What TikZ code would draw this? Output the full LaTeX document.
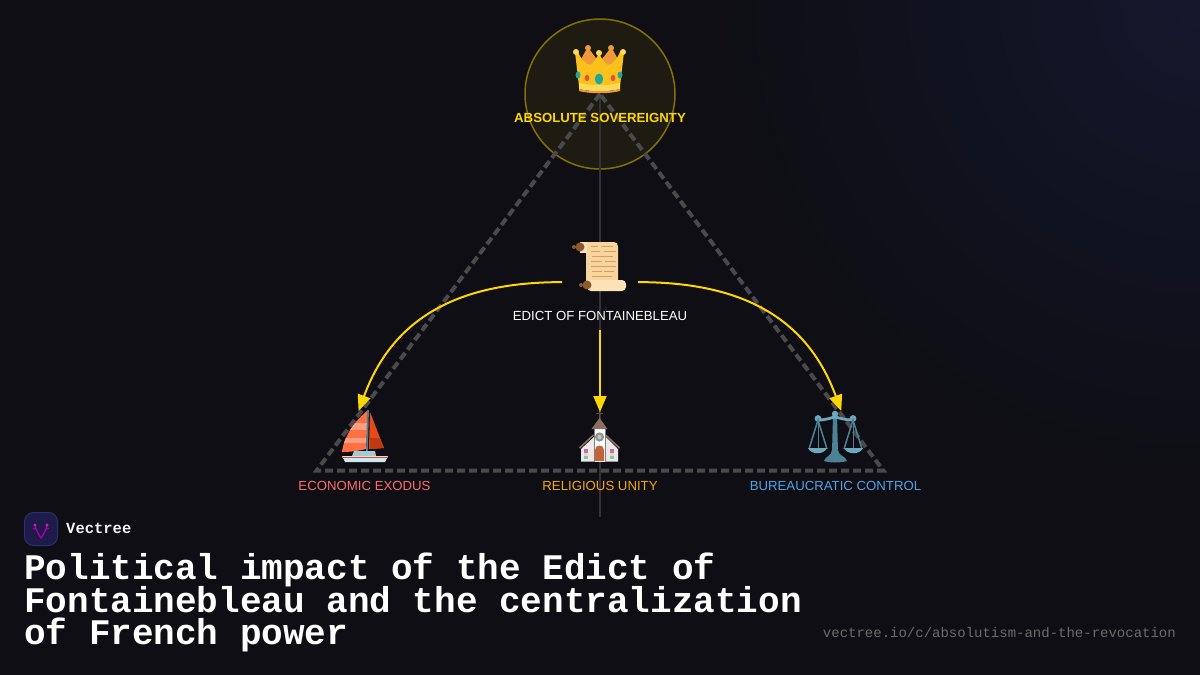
\documentclass[tikz,border=0pt]{standalone}
\usepackage{fontspec}
\setmainfont{Liberation Sans}
\newfontfamily\titlefont{Liberation Mono}
\usetikzlibrary{arrows.meta, positioning}
\newcommand\headlinesize{\fontsize{36}{32.5}\selectfont\setlength{\lineskiplimit}{-30pt}}
\definecolor{bgdark}{HTML}{0E0E14}
\definecolor{bgblue}{HTML}{15172D}
\definecolor{gold}{HTML}{FFD700}
\definecolor{gridgray}{HTML}{4A4A4C}
\definecolor{stemgray}{HTML}{333336}
\definecolor{steel}{HTML}{6FA8BC}
\definecolor{steeldark}{HTML}{4D8296}
\definecolor{crowngold}{HTML}{FCC21B}
\definecolor{crownback}{HTML}{EF9A3A}
\definecolor{crownband}{HTML}{FFD95A}
\definecolor{jewelteal}{HTML}{1BA79A}
\definecolor{jewelred}{HTML}{E8503F}
\definecolor{paper}{HTML}{F9D49C}
\definecolor{paperroll}{HTML}{FFE2B8}
\definecolor{paperink}{HTML}{CFA06A}
\definecolor{knob}{HTML}{8D5A2F}
\definecolor{sailred}{HTML}{FF7043}
\definecolor{sailpale}{HTML}{FF9E80}
\definecolor{saildark}{HTML}{E64A19}
\definecolor{saildeep}{HTML}{BF3A12}
\definecolor{hull}{HTML}{CDE8EE}
\definecolor{roof}{HTML}{8D6E63}
\definecolor{wall}{HTML}{ECE8E6}
\definecolor{door}{HTML}{C1663A}
\tikzset{
  hub/.style = {circle, draw=gold!52!black, line width=1.5pt, fill=gold, fill opacity=0.065,
    draw opacity=1, minimum size=150pt, inner sep=0pt},
  iconbox/.style = {minimum width=50pt, minimum height=50pt, inner sep=0pt, outer sep=0pt},
  caption/.style = {font=\fontsize{13.2}{15}\selectfont, inner sep=0pt},
  sideline/.style = {draw=gridgray, line width=4pt, dash pattern=on 8pt off 4pt},
  flow/.style = {draw=gold, line width=2pt, -{Triangle[length=16pt, width=13pt]}},
}

\begin{document}
\begin{tikzpicture}[x=1pt, y=-1pt]
      \useasboundingbox (0,0) rectangle (1200,675);

      % --- Background ---
      \fill[bgdark] (0,0) rectangle (1200,675);
      \begin{scope}
        \clip (0,0) rectangle (1200,675);
        \shade[inner color=bgblue, outer color=bgdark] (1200,0) circle[radius=480];
      \end{scope}

      % --- Nodes ---
      \node[hub] (sovereign) at (600,94) {};
      \node[iconbox, minimum width=76pt, minimum height=52pt] (scroll) at (600,266) {};
      \node[iconbox] (boat) at (363,436) {};
      \node[iconbox] (church) at (600,437) {};
      \node[iconbox] (balance) at (835,436) {};
      \coordinate (baseL) at (316.5,470.7);
      \coordinate (baseR) at (883.5,470.7);
      \coordinate (stem) at (600,517);

      % --- Triangle and axis ---
      \draw[stemgray, line width=1.5pt] (sovereign.center) -- (stem);
      \draw[sideline] (sovereign.center) -- (baseL) -- (baseR) -- cycle;

      % --- Crown ---
      \fill[crownback] (579,66) .. controls (581,58) and (585,52) .. (588,47)
        .. controls (591,52) and (596,58) .. (599,62) .. controls (603,58) and (608,52) .. (611,47)
        .. controls (614,52) and (618,58) .. (620,66) -- (618,80) -- (581,80) -- cycle;
      \fill[crowngold] (575,52) -- (578,52) .. controls (581,59) and (585,64) .. (590,65)
        .. controls (594,62) and (597,58) .. (599,53) .. controls (601,58) and (604,62) .. (608,65)
        .. controls (613,64) and (617,59) .. (620,52) -- (624,52) -- (620,86) -- (579,86) -- cycle;
      \fill[crownband] (579,83) .. controls (590,86) and (609,86) .. (620,83) -- (620,89)
        .. controls (609,92) and (590,92) .. (579,89) -- cycle;
      \fill[crownback] (579,89) .. controls (590,92) and (609,92) .. (620,89) -- (620,91)
        .. controls (609,94) and (590,94) .. (579,91) -- cycle;
      \foreach \px/\py in {576/52, 599/53, 623/52}
        \fill[crownband] (\px,\py) circle[radius=3];
      \foreach \px/\py in {588/48, 611/48}
        \fill[crownback] (\px,\py) circle[radius=3];
      \fill[jewelteal] (599,79) ellipse[x radius=4.2, y radius=5.5];
      \fill[jewelteal] (578,75) ellipse[x radius=2.5, y radius=3.5];
      \fill[jewelteal] (620,75) ellipse[x radius=2.5, y radius=3.5];
      \fill[jewelred] (587,78) ellipse[x radius=2.3, y radius=3.2];
      \fill[jewelred] (613,78) ellipse[x radius=2.3, y radius=3.2];

      % --- Scroll ---
      \fill[paper] (586,242) -- (614,242) .. controls (617,242) and (618,244) .. (618,247)
        -- (618,282) -- (586,282) -- cycle;
      \fill[paperroll] (580,242) -- (587,242) -- (587,253) -- (580,253) -- cycle;
      \foreach \ly/\lx/\lz in {246/591/598, 246/601/613, 251/591/600, 251/604/616, 256/592/613,
        261/591/602, 261/605/616, 266/591/616, 271/592/602, 271/604/614, 276/592/612}
        \draw[paperink, line width=0.9pt] (\lx,\ly) -- (\lz,\ly);
      \fill[paperroll, rounded corners=4pt] (587,280) rectangle (626,291);
      \fill[knob] (580,247) circle[radius=4.5];
      \fill[knob] (574,247) circle[radius=2];
      \fill[knob] (587,285) circle[radius=4.5];
      \fill[knob] (581,285) circle[radius=2];

      % --- Sailboat ---
      \begin{scope}
        \clip (368,410) .. controls (356,420) and (344,435) .. (342,452)
          .. controls (350,452) and (358,451) .. (366,449) -- cycle;
        \fill[sailred] (340,405) rectangle (370,455);
        \fill[sailpale] (340,423) rectangle (370,430);
        \fill[sailpale] (340,438) rectangle (370,443);
      \end{scope}
      \fill[saildark] (370,412) .. controls (375,425) and (380,438) .. (384,448) -- (369,449) -- cycle;
      \fill[saildeep] (370,438) -- (379,438) -- (384,448) -- (370,449) -- cycle;
      \draw[steeldark, line width=1.8pt] (368,410) -- (367,453);
      \fill[hull!70!steeldark] (352,456) -- (354,451) -- (375,451) -- (376,456) -- cycle;
      \fill[hull] (342,456) -- (388,456) -- (385,462) -- (345,462) -- cycle;
      \draw[saildark, line width=0.9pt] (342,457) -- (388,457);

      % --- Church ---
      \draw[roof!70!black, line width=1.3pt] (599.5,410) -- (599.5,419) (596,413.5) -- (603,413.5);
      \fill[wall] (581,449) -- (594,437) -- (606,437) -- (618,449) -- (618,461.5) -- (581,461.5) -- cycle;
      \draw[roof, line width=1.6pt] (579.5,448) -- (593.5,435) (605.5,435) -- (619.5,448);
      \fill[white] (594,428) rectangle (605,461.5);
      \draw[gray, line width=0.7pt] (594,429) -- (594,461.5) (605,429) -- (605,461.5);
      \fill[roof] (591.5,429) -- (599.5,418) -- (607.5,429) -- cycle;
      \fill[steel!70!gray] (599.5,437) circle[radius=4.6];
      \fill[sailpale!60!paper] (599.5,437) circle[radius=2.2];
      \fill[door] (595,461) -- (595,450) .. controls (595,444) and (604,444) .. (604,450) -- (604,461) -- cycle;
      \foreach \wx in {585.7, 612.3} {
        \fill[violet!55!white] (\wx-2,449) rectangle (\wx+2,453);
        \fill[paper] (\wx-2,453) rectangle (\wx+2,456);
        \fill[jewelteal!60!white] (\wx-2,456) rectangle (\wx+2,459);
      }

      % --- Scales ---
      \fill[steeldark] (833,415) -- (837,415) -- (838,452) -- (832,452) -- cycle;
      \draw[steel, line width=2.8pt] (818,420) .. controls (826,420) and (830,418) .. (835,417)
        .. controls (840,418) and (845,420) .. (853,420);
      \fill[steel] (835,414) circle[radius=3.2];
      \fill[steel] (818,418.5) circle[radius=3.4];
      \fill[steel] (853,418.5) circle[radius=3.4];
      \fill[steeldark] (824,461) .. controls (825,456) and (832,456) .. (832,450) -- (838,450)
        .. controls (838,456) and (846,456) .. (847,461) .. controls (840,463) and (830,463) .. (824,461) -- cycle;
      \draw[steeldark, line width=1.5pt] (809,449) -- (818,420) -- (827,449) (844,449) -- (853,420) -- (862,449);
      \draw[steeldark, line width=0.6pt] (818,420) -- (818,449) (853,420) -- (853,449);
      \fill[steel] (808,448) .. controls (811,455) and (824,455) .. (827,448) -- cycle;
      \fill[steel] (844,448) .. controls (847,455) and (860,455) .. (863,448) -- cycle;

      % --- Labels ---
      \node[caption, font=\fontsize{13.2}{15}\selectfont\bfseries, text=gold] (sovereignLabel) at (600,117.7) {ABSOLUTE SOVEREIGNTY};
      \node[caption, text=white, minimum height=29pt] (edict) at (600,315.7) {EDICT OF FONTAINEBLEAU};
      \node[caption, text={rgb,255:red,255;green,107;blue,107}] (exodus) at (364.5,485.7) {ECONOMIC EXODUS};
      \node[caption, text={rgb,255:red,243;green,166;blue,18}] (unity) at (600,485.7) {RELIGIOUS UNITY};
      \node[caption, text={rgb,255:red,77;green,163;blue,232}] (control) at (835.5,485.7) {BUREAUCRATIC CONTROL};

      % --- Edges ---
      \draw[flow] (scroll.203) .. controls (455,282) and (392,320) .. (boat.100);
      \draw[flow] (scroll.-23) .. controls (745,282) and (808,320) .. (balance.76);
      \draw[flow] (edict.south) -- (church.north);

      % --- Footer ---
      \node[draw={rgb,255:red,49;green,46;blue,110}, fill={rgb,255:red,30;green,27;blue,75}, line width=1pt,
        rounded corners=9pt, minimum size=33pt, inner sep=0pt] (logo) at (41,529) {};
      \draw[violet!70!magenta, line width=1.3pt] (35,526) .. controls (37,532) and (39,535) .. (41,538)
        .. controls (43,535) and (45,532) .. (47,526);
      \draw[violet!70!magenta, line width=0.9pt] (33,528) -- (37,530) (49,528) -- (45,530);
      \fill[magenta!60!violet] (35,525) circle[radius=1.6];
      \fill[magenta!60!violet] (47,525) circle[radius=1.6];
      \node[font=\titlefont\bfseries\fontsize{15.5}{18}\selectfont, text=white!90!gray, inner sep=0pt,
        right=8pt of logo, yshift=1pt] (brand) {Vectree};
      \node[font=\titlefont\bfseries\headlinesize, text=white, align=left, inner sep=0pt,
        anchor=north west] (headline) at (24,553)
        {Political impact of the Edict of\\Fontainebleau and the centralization\\of French power};
      \node[font=\titlefont\fontsize{14}{16}\selectfont, text=gray!85!black, inner sep=0pt,
        anchor=east] (source) at (1176,633) {vectree.io/c/absolutism-and-the-revocation};

    \end{tikzpicture}
\end{document}
